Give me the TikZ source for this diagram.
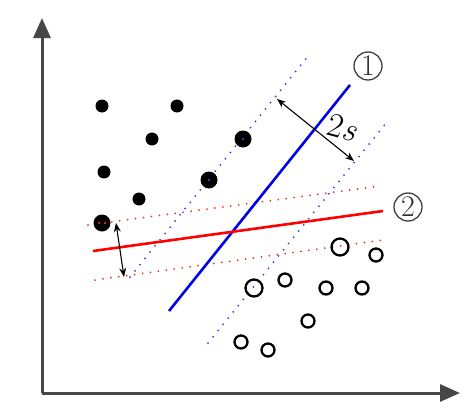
\documentclass[tikz,border=0pt]{standalone}
\usepackage{fontspec}
\usepackage{tikz}
\usetikzlibrary{arrows.meta}

\begin{document}
\begin{tikzpicture}[
  x=1pt, y=-1pt,
  axis/.style={line width=3pt, draw=black!72, -{Triangle[length=20pt,width=17pt]}},
  dot/.style={circle, fill=black, minimum size=13pt, inner sep=0pt},
  supdot/.style={circle, fill=black, minimum size=17pt, inner sep=0pt},
  ring/.style={circle, draw=black, line width=2.3pt, minimum size=13pt, inner sep=0pt},
  supring/.style={circle, draw=black, line width=2.3pt, minimum size=17pt, inner sep=0pt},
  hyper/.style={line width=2.6pt},
  margin/.style={line width=2pt, line cap=round, dash pattern=on 0pt off 8pt},
  dist/.style={{Stealth[length=9pt,width=7pt]}-{Stealth[length=9pt,width=7pt]}, line width=1.1pt},
  tag/.style={circle, draw=black!75, text=black!80, line width=1.3pt, minimum size=28pt, inner sep=0pt, font=\fontsize{30}{30}\selectfont}
]

\useasboundingbox (0,0) rectangle (474,415);

% Axes
\coordinate (O) at (42,393);
\coordinate (ytip) at (42,18);
\coordinate (xtip) at (460,393);
\draw[axis] (O) -- (ytip);
\draw[axis] (O) -- (xtip);

% Margin lines of hyperplane 2 (red)
\coordinate (r1a) at (88,225);  \coordinate (r1b) at (380,186);
\coordinate (r2a) at (95,280);  \coordinate (r2b) at (383,240);
\draw[margin, red!85] (r1a) -- (r1b);
\draw[margin, red!85] (r2a) -- (r2b);

% Margin lines of hyperplane 1 (blue)
\coordinate (b1a) at (130,277); \coordinate (b1b) at (309,55);
\coordinate (b2a) at (208,343); \coordinate (b2b) at (387,122);
\draw[margin, blue!80] (b1a) -- (b1b);
\draw[margin, blue!80] (b2a) -- (b2b);

% Hyperplanes
\coordinate (h1a) at (169,311); \coordinate (h1b) at (350,85);
\coordinate (h2a) at (93,251);  \coordinate (h2b) at (383,211);
\draw[hyper, blue!90!black] (h1a) -- (h1b);
\draw[hyper, red] (h2a) -- (h2b);

% Class A (filled)
\foreach \x/\y [count=\i] in {102/106, 177/106, 152/139, 104/172, 139/199}{
  \node[dot] (a\i) at (\x,\y) {};
}
\node[supdot] (sa1) at (243,139) {};
\node[supdot] (sa2) at (209,180) {};
\node[supdot] (sa3) at (102,223) {};
\fill[blue!70] (sa1) circle (1.2pt);
\fill[blue!70] (sa2) circle (1.2pt);
\fill[red!80] ([xshift=-3pt]sa3.center) circle (1.2pt);
\fill[red!80] ([xshift=3pt]sa3.center) circle (1.2pt);

% Class B (open)
\foreach \x/\y [count=\i] in {376/255, 285/280, 326/288, 362/288, 308/321, 241/342, 268/350}{
  \node[ring] (b\i) at (\x,\y) {};
}
\node[supring] (sb1) at (340,247) {};
\node[supring] (sb2) at (254,288) {};

% Margin widths
\coordinate (w1a) at (277,99);  \coordinate (w1b) at (354,161);
\draw[dist] (w1a) -- (w1b);
\node[font=\fontsize{34}{34}\selectfont, rotate=-15, inner sep=0pt] (wl) at (343,128) {2\textit{s}};
\coordinate (w2a) at (116,223); \coordinate (w2b) at (124,277);
\draw[dist] (w2a) -- (w2b);

% Labels
\node[tag] (t1) at (368,66) {1};
\node[tag] (t2) at (408,207) {2};

\end{tikzpicture}
\end{document}
